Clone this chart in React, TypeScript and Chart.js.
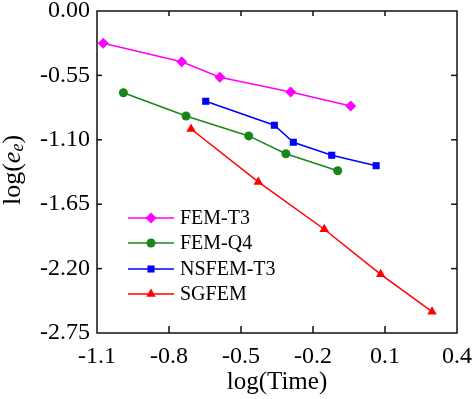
import React, { useEffect, useRef } from 'react';
import { Chart, registerables } from 'chart.js';

Chart.register(...registerables);

const xTicks = [-1.1, -0.8, -0.5, -0.2, 0.1, 0.4];
const yTicks = [0, -0.55, -1.1, -1.65, -2.2, -2.75];

const seriesNames = ['FEM-T3', 'FEM-Q4', 'NSFEM-T3', 'SGFEM'];

const femT3X = [-1.074, -0.747, -0.588, -0.293, -0.043];
const femT3Y = [-0.276, -0.433, -0.566, -0.692, -0.811];

const femQ4X = [-0.99, -0.729, -0.468, -0.313, -0.097];
const femQ4Y = [-0.698, -0.897, -1.067, -1.219, -1.364];

const nsfemX = [-0.647, -0.361, -0.282, -0.122, 0.063];
const nsfemY = [-0.771, -0.976, -1.121, -1.232, -1.321];

const sgfemX = [-0.708, -0.428, -0.153, 0.082, 0.296];
const sgfemY = [-1.008, -1.46, -1.864, -2.249, -2.568];

const colors = ['#ff00ff', '#1a861a', '#0000ff', '#ff0000'];
const styles = ['rectRot', 'circle', 'rect', 'triangle'];
const radii = [5.5, 4.5, 5, 5.5];

const FONT = "'Liberation Serif', 'Times New Roman', serif";

function drawMarker(ctx: CanvasRenderingContext2D, style: string, x: number, y: number, r: number) {
  ctx.beginPath();
  if (style === 'circle') {
    ctx.arc(x, y, r, 0, Math.PI * 2);
  } else if (style === 'rectRot') {
    ctx.moveTo(x, y - r);
    ctx.lineTo(x + r, y);
    ctx.lineTo(x, y + r);
    ctx.lineTo(x - r, y);
    ctx.closePath();
  } else if (style === 'rect') {
    const s = Math.SQRT1_2 * r;
    ctx.rect(x - s, y - s, 2 * s, 2 * s);
  } else {
    const h = (r * 3) / 2;
    const w = r * Math.sqrt(3);
    ctx.moveTo(x, y - r);
    ctx.lineTo(x + w / 2, y - r + h);
    ctx.lineTo(x - w / 2, y - r + h);
    ctx.closePath();
  }
  ctx.fill();
}

const customPlugin = {
  id: 'customDecor',
  afterDraw(chart: any) {
    const { ctx, chartArea: a, scales } = chart;
    ctx.save();
    ctx.strokeStyle = '#111';
    ctx.lineWidth = 1.5;
    ctx.strokeRect(a.left, a.top, a.right - a.left, a.bottom - a.top);
    const seg = (x1: number, y1: number, x2: number, y2: number) => {
      ctx.beginPath();
      ctx.moveTo(x1, y1);
      ctx.lineTo(x2, y2);
      ctx.stroke();
    };
    xTicks.forEach((v) => {
      const px = scales.x.getPixelForValue(v);
      if (px <= a.left + 1 || px >= a.right - 1) return;
      seg(px, a.bottom, px, a.bottom - 7);
      seg(px, a.top, px, a.top + 5);
    });
    yTicks.forEach((v) => {
      const py = scales.y.getPixelForValue(v);
      if (py <= a.top + 1 || py >= a.bottom - 1) return;
      seg(a.left, py, a.left + 5, py);
      seg(a.right, py, a.right - 6, py);
    });

    // legend
    const rowY = [218, 243, 269, 294];
    seriesNames.forEach((name, i) => {
      const y = rowY[i];
      ctx.strokeStyle = colors[i];
      ctx.fillStyle = colors[i];
      ctx.lineWidth = 1.5;
      seg(128, y, 174, y);
      drawMarker(ctx, styles[i], 151, y, radii[i]);
      ctx.fillStyle = '#000';
      ctx.font = `20px ${FONT}`;
      ctx.textAlign = 'left';
      ctx.textBaseline = 'middle';
      ctx.fillText(name, 180, y + 1);
    });

    // x title
    ctx.fillStyle = '#000';
    ctx.font = `25px ${FONT}`;
    ctx.textAlign = 'center';
    ctx.textBaseline = 'middle';
    ctx.fillText('log(Time)', (a.left + a.right) / 2, 382);

    // y title
    ctx.save();
    ctx.translate(13, 170);
    ctx.rotate(-Math.PI / 2);
    const parts = [
      { t: 'log(', f: `26px ${FONT}`, dy: 0 },
      { t: 'e', f: `italic 26px ${FONT}`, dy: 0 },
      { t: 'e', f: `italic 18px ${FONT}`, dy: 5 },
      { t: ')', f: `26px ${FONT}`, dy: 0 },
    ];
    let total = 0;
    parts.forEach((p) => {
      ctx.font = p.f;
      total += ctx.measureText(p.t).width;
    });
    let cx = -total / 2;
    ctx.textAlign = 'left';
    parts.forEach((p) => {
      ctx.font = p.f;
      ctx.fillText(p.t, cx, p.dy);
      cx += ctx.measureText(p.t).width;
    });
    ctx.restore();
    ctx.restore();
  },
};

export default function App() {
  const ref = useRef<HTMLCanvasElement>(null);
  useEffect(() => {
    if (!ref.current) return;
    const xs = [femT3X, femQ4X, nsfemX, sgfemX];
    const ys = [femT3Y, femQ4Y, nsfemY, sgfemY];
    const chart = new Chart(ref.current, {
      type: 'line',
      data: {
        datasets: seriesNames.map((name, i) => ({
          label: name,
          data: xs[i].map((x, j) => ({ x, y: ys[i][j] })),
          borderColor: colors[i],
          backgroundColor: colors[i],
          borderWidth: 1.5,
          pointStyle: styles[i] as any,
          pointRadius: radii[i],
          pointBorderWidth: 0,
          pointBackgroundColor: colors[i],
          tension: 0,
        })),
      },
      options: {
        animation: false,
        responsive: false,
        layout: { padding: { top: 11, right: 17, left: 0, bottom: 0 } },
        plugins: { legend: { display: false }, tooltip: { enabled: false } },
        scales: {
          x: {
            type: 'linear',
            min: -1.1,
            max: 0.4,
            afterBuildTicks: (s: any) => {
              s.ticks = xTicks.map((v) => ({ value: v }));
            },
            afterFit: (s: any) => {
              s.height = 66;
              s.paddingLeft = 0;
              s.paddingRight = 0;
              s.paddingTop = 0;
              s.paddingBottom = 0;
            },
            ticks: {
              autoSkip: false,
              maxRotation: 0,
              padding: 9,
              color: '#000',
              font: { family: FONT, size: 24 },
              callback: (v: any) => Number(v).toFixed(1),
            },
            grid: { display: false, drawTicks: false },
            border: { display: false },
          },
          y: {
            type: 'linear',
            min: -2.75,
            max: 0,
            afterBuildTicks: (s: any) => {
              s.ticks = yTicks.map((v) => ({ value: v }));
            },
            afterFit: (s: any) => {
              s.width = 97;
              s.paddingLeft = 0;
              s.paddingRight = 0;
              s.paddingTop = 0;
              s.paddingBottom = 0;
            },
            ticks: {
              autoSkip: false,
              padding: 7,
              color: '#000',
              font: { family: FONT, size: 24 },
              callback: (v: any) => Number(v).toFixed(2),
            },
            grid: { display: false, drawTicks: false },
            border: { display: false },
          },
        },
      },
      plugins: [customPlugin],
    });
    return () => {
      chart.destroy();
    };
  }, []);
  return (
    <div style={{ position: 'fixed', left: 0, top: 0, width: 474, height: 399, background: '#fff' }}>
      <canvas ref={ref} width={474} height={399} />
    </div>
  );
}
